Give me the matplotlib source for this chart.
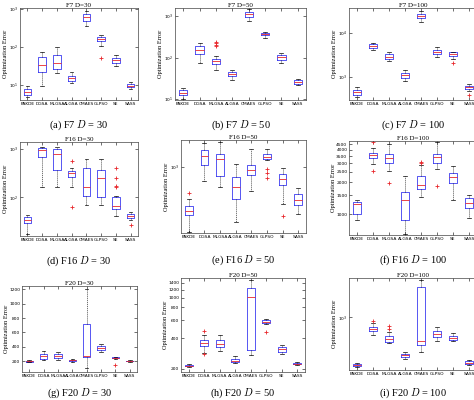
"""
Box plots of optimization error for eight algorithms on F7, F16 and F20
(D = 30, 50, 100), laid out as a 3x3 grid of sub-figures with captions.
"""
import matplotlib
matplotlib.use("Agg")
import matplotlib.pyplot as plt
from matplotlib.ticker import FixedLocator, LogLocator, LogFormatterMathtext, NullLocator

algos = ["PAKDE", "DGSA", "MLGSA", "ALGSA", "CMAES", "GLPSO", "SE", "SASS"]

# each row: lower whisker, Q1, median, Q3, upper whisker (one row per algorithm)
f7_d30 = [[5.0, 5.7, 6.7, 8.0, 9.6], [9.6, 22.4, 34.4, 54, 75.5], [20.4, 27, 39.2, 62.7, 100],
          [11.6, 13.2, 15.4, 17.9, 22.4], [357, 491, 592, 714, 861], [104, 140, 160, 182, 204],
          [31.3, 37.8, 44.7, 51.9, 62.7], [8.0, 8.8, 9.8, 11.0, 12.3]]
f7_d30_out = [[], [], [], [], [], [52], [], []]

f7_d50 = [[10, 12.6, 14.3, 16.6, 19.1], [76, 120, 149, 188, 225], [50.5, 69.8, 80.5, 94.8, 109],
          [29.4, 35.9, 40.7, 46.1, 50.5], [764, 948, 1094, 1241, 1432], [294, 340, 372, 393, 407],
          [72.3, 88.2, 102, 115, 131], [21.7, 22.9, 25.5, 28.4, 30.5]]
f7_d50_out = [[], [], [237, 221, 205, 188], [], [], [], [], []]

f7_d100 = [[349, 405, 454, 518, 591], [4046, 4467, 5012, 5445, 5906], [2276, 2596, 2912, 3267, 3727],
           [821, 936, 1104, 1239, 1460], [17780, 21320, 23920, 26830, 31620], [2773, 3267, 3664, 4113, 4850],
           [2512, 3060, 3380, 3606, 3727], [485, 545, 591, 641, 696]]
f7_d100_out = [[], [], [], [], [], [], [2096], [392]]

f16_d30 = [[18.1, 30.2, 34.8, 39.9, 44.5], [167, 678, 925, 1032, 1081], [167, 364, 792, 1000, 1081],
           [167, 258, 311, 352, 394], [71, 108, 167, 406, 608], [71, 100, 254, 364, 608],
           [41.2, 58.9, 67.7, 102, 105], [35.2, 38.1, 41.9, 45.9, 49.6]]
f16_d30_out = [[], [], [], [553, 62.7], [], [], [394, 254, 175, 160], [27.0]]

f16_d50 = [[329, 439, 473, 510, 579], [781, 1041, 1209, 1334, 1496], [708, 857, 1142, 1238, 1522],
           [387, 572, 708, 841, 1059], [657, 866, 955, 1041, 1357], [1122, 1142, 1189, 1245, 1357],
           [531, 737, 818, 891, 989], [447, 516, 566, 631, 696]]
f16_d50_out = [[638], [], [], [], [], [961, 907, 827], [434], []]

f16_d100 = [[877, 1000, 1236, 1310, 1359], [2924, 3334, 3561, 3775, 4212], [2527, 2989, 3334, 3640, 4530],
            [660, 877, 1359, 1631, 2265], [1462, 1729, 1887, 2265, 2880], [2679, 2989, 3434, 3694, 4700],
            [1359, 1957, 2216, 2436, 2819], [923, 1149, 1263, 1409, 1516]]
f16_d100_out = [[], [4700, 2527], [1957], [], [3000, 3100], [1820], [], []]

f20_d30 = [[186, 195, 202, 209, 214], [214, 232, 268, 300, 336], [223, 241, 277, 305, 323],
           [195, 205, 214, 223, 232], [109, 255, 277, 723, 1200], [327, 350, 386, 414, 441],
           [232, 241, 250, 255, 259], [191, 200, 205, 209, 214]]
f20_d30_out = [[], [], [], [], [], [], [150], []]

f20_d50 = [[208, 211, 214, 217, 220], [287, 333, 358, 385, 424], [300, 328, 353, 380, 424],
           [227, 231, 239, 248, 267], [273, 305, 1025, 1232, 1481], [549, 557, 578, 599, 613],
           [279, 294, 309, 328, 345], [217, 220, 224, 227, 231]]
f20_d50_out = [[], [467, 279], [], [], [], [457], [], []]

f20_d100 = [[501, 506, 513, 520, 525], [783, 832, 855, 879, 920], [698, 711, 741, 766, 813],
            [562, 575, 589, 603, 617], [617, 676, 718, 1528, 1698], [724, 759, 794, 832, 871],
            [718, 731, 752, 776, 802], [511, 520, 530, 540, 550]]
f20_d100_out = [[], [955], [891, 851], [], [], [], [], []]

f16_d100_ticks = [1000, 1500, 2000, 2500, 3000, 3500, 4000, 4500]
f20_d30_ticks = [200, 400, 600, 800, 1000, 1200]
f20_d50_ticks = [200, 400, 600, 800, 1000, 1200, 1400]

W, H = 474, 400
# name, caption, data, outliers, scale, ylim, fixed ticks,
# axes box in pixels (left, top, right, bottom), caption offset below axes
panels = [
    ("F7 D=30", "(a) F7 $D$ = 30", f7_d30, f7_d30_out, "log", (4.15, 1040), None, (20, 8, 138, 100), 25),
    ("F7 D=50", "(b) F7 $D$ = 50", f7_d50, f7_d50_out, "log", (9.6, 1540), None, (175, 8, 306, 100), 25),
    ("F7 D=100", "(c) F7 $D$ = 100", f7_d100, f7_d100_out, "log", (306, 36000), None, (349, 8, 477, 100), 25),
    ("F16 D=30", "(d) F16 $D$ = 30", f16_d30, f16_d30_out, "log", (16.2, 1365), None, (20, 142, 138, 236), 25),
    ("F16 D=50", "(e) F16 $D$ = 50", f16_d50, f16_d50_out, "log", (322, 1585), None, (181, 140, 306, 233), 27),
    ("F16 D=100", "(f) F16 $D$ = 100", f16_d100, f16_d100_out, "log", (640, 4850), f16_d100_ticks, (349, 141, 477, 235), 25),
    ("F20 D=30", "(g) F20 $D$ = 30", f20_d30, f20_d30_out, "linear", (50, 1245), f20_d30_ticks, (22, 286, 137, 372), 21),
    ("F20 D=50", "(h) F20 $D$ = 50", f20_d50, f20_d50_out, "log", (185, 1560), f20_d50_ticks, (181, 278, 305, 372), 21),
    ("F20 D=100", "(i) F20 $D$ = 100", f20_d100, f20_d100_out, "log", (479, 1738), None, (349, 278, 477, 370), 23),
]

plt.rcParams["mathtext.fontset"] = "cm"
fig = plt.figure(figsize=(W / 100, H / 100), dpi=100)
serif = ["Liberation Serif", "DejaVu Serif"]

for title, caption, rows, outs, scale, ylim, ticks, (l, t, r, b), cap_dy in panels:
    ax = fig.add_axes([l / W, 1 - b / H, (r - l) / W, (b - t) / H])
    stats = []
    for name, row, out in zip(algos, rows, outs):
        stats.append({"label": name, "whislo": row[0], "q1": row[1], "med": row[2],
                      "q3": row[3], "whishi": row[4], "fliers": out})
    ax.bxp(stats, widths=0.5, capwidths=0.25,
           boxprops=dict(color="#3a3af0", linewidth=0.6),
           medianprops=dict(color="#e8262b", linewidth=0.6),
           whiskerprops=dict(color="black", linewidth=0.4, linestyle=(0, (2, 1.5))),
           capprops=dict(color="black", linewidth=0.5),
           flierprops=dict(marker="+", markeredgecolor="#e8262b", markersize=2.5, markeredgewidth=0.6))
    ax.set_yscale(scale)
    ax.set_ylim(*ylim)
    ax.set_xlim(0.5, 8.5)
    if ticks is not None:
        ax.yaxis.set_major_locator(FixedLocator(ticks))
        ax.set_yticklabels([str(v) for v in ticks])
    elif scale == "log":
        ax.yaxis.set_major_locator(LogLocator(base=10))
        ax.yaxis.set_major_formatter(LogFormatterMathtext())
    ax.yaxis.set_minor_locator(NullLocator())
    ax.tick_params(direction="in", top=True, right=True, length=2, width=0.4,
                   labelsize=3.2, pad=1.2)
    for sp in ax.spines.values():
        sp.set_linewidth(0.5)
        sp.set_color("#444444")
    ax.set_title(title, fontsize=5, family=serif, pad=1)
    ax.set_ylabel("Optimization Error", fontsize=4.5, family=serif, labelpad=0.5)
    fig.text((l + r) / 2 / W, 1 - (b + cap_dy) / H, caption, fontsize=7.5, family=serif,
             ha="center", va="center")

fig.savefig("out.png", dpi=100)
